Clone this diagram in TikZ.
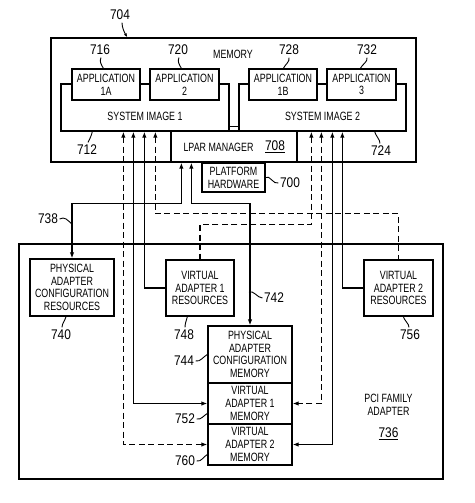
\documentclass[tikz,border=0pt]{standalone}
\usepackage{fontspec}
\setmainfont{Liberation Sans}[FakeStretch=0.74]
\newfontfamily\numfont{Liberation Sans}[FakeStretch=0.85]
\usetikzlibrary{arrows.meta,calc}
\begin{document}
\begin{tikzpicture}[x=1pt,y=-1pt, line width=1.3pt,
  >={Latex[length=6pt,width=4.5pt]},
  font=\fontsize{12}{12.7}\selectfont,
  box/.style={draw, fill=white, inner sep=0pt, align=center},
  txt/.style={inner sep=0pt, align=center},
  num/.style={font=\numfont\fontsize{14}{15}\selectfont, inner sep=0pt},
  lead/.style={line width=0.9pt},
  dsh/.style={dash pattern=on 6pt off 3.5pt}]
\useasboundingbox (0,0) rectangle (474,503);

% memory
\node[box, minimum width=365, minimum height=124] (mem) at (233.5,100) {};
\node[txt] (memt) at (233,54) {MEMORY};
\node[box, minimum width=168, minimum height=47] (si1) at (145,107.5) {};
\node[box, minimum width=167, minimum height=47] (si2) at (322.5,107.5) {};
\node[txt] (si1t) at (145,116.5) {SYSTEM IMAGE 1};
\node[txt] (si2t) at (322.5,116.5) {SYSTEM IMAGE 2};
\node[box, minimum width=68, minimum height=31] (a1a) at (106,84.5) {APPLICATION\\1A};
\node[box, minimum width=69, minimum height=31] (a2) at (184.5,84.5) {APPLICATION\\2};
\node[box, minimum width=68, minimum height=31] (a1b) at (283,84.5) {APPLICATION\\1B};
\node[box, minimum width=69, minimum height=31] (a3) at (361.5,84.5) {APPLICATION\\3};
\node[box, minimum width=126, minimum height=31] (lpar) at (234,146.5) {};
\draw ($(si1.south east)+(0,-5)$) -- ($(si2.south west)+(0,-5)$);
\node[txt] (lpart) at (218.5,147) {LPAR MANAGER};
\node[num] (n708) at (275,147) {\underline{708}};
\node[box, minimum width=63, minimum height=29] (ph) at (233.5,177.5) {PLATFORM\\HARDWARE};

% adapter
\node[box, minimum width=424, minimum height=235] (pci) at (231,361.5) {};
\node[box, minimum width=84, minimum height=57] (pacr) at (72,287.5) {PHYSICAL\\ADAPTER\\CONFIGURATION\\RESOURCES};
\node[box, minimum width=68, minimum height=56] (va1r) at (200,288) {VIRTUAL\\ADAPTER 1\\RESOURCES};
\node[box, minimum width=69, minimum height=56] (va2r) at (398.5,288) {VIRTUAL\\ADAPTER 2\\RESOURCES};
\node[box, minimum width=84, minimum height=57] (pacm) at (250,354.5) {PHYSICAL\\ADAPTER\\CONFIGURATION\\MEMORY};
\node[box, minimum width=84, minimum height=41] (va1m) at (250,403.5) {VIRTUAL\\ADAPTER 1\\MEMORY};
\node[box, minimum width=84, minimum height=41] (va2m) at (250,444.5) {VIRTUAL\\ADAPTER 2\\MEMORY};
\node[txt] (pcit) at (388.5,404.5) {PCI FAMILY\\ADAPTER};
\node[num] (n736) at (388.5,434) {\underline{736}};

% connectors
\draw[<->] (pacr.north) |- ($(lpar.south west)+(11,41)$) -- ($(lpar.south west)+(11,0)$);
\draw[<->] (pacm.north) |- ($(lpar.south west)+(21,41)$) -- ($(lpar.south west)+(21,0)$);
\draw[dsh,<-] ($(si1.south west)+(95,0)$) -- ++(0,82) -| (va2r.north);
\draw[dsh,<-] ($(si2.south west)+(73,0)$) -- ++(0,93) -| (va1r.north);
\draw[<-] ($(si1.south west)+(84,0)$) |- (va1r.west);
\draw[<->] ($(si1.south west)+(73,0)$) |- (va1m.west);
\draw[dsh,<->] ($(si1.south west)+(63,0)$) |- (va2m.west);
\draw[dsh,<->] ($(si2.south west)+(83,0)$) |- (va1m.east);
\draw[<->] ($(si2.south west)+(94,0)$) |- (va2m.east);
\draw[<-] ($(si2.south west)+(104,0)$) |- (va2r.west);

% reference numerals
\node[num] (n704) at (120,15) {704};
\node[num] (n716) at (100,50) {716};
\node[num] (n720) at (178,50) {720};
\node[num] (n728) at (289,50) {728};
\node[num] (n732) at (367,50) {732};
\node[num] (n712) at (87,150) {712};
\node[num] (n724) at (381,151) {724};
\node[num] (n738) at (48,219) {738};
\node[num] (n700) at (290,183) {700};
\node[num] (n742) at (274,298) {742};
\node[num] (n740) at (61,335) {740};
\node[num] (n748) at (184,335) {748};
\node[num] (n756) at (410,335) {756};
\node[num] (n744) at (184,361) {744};
\node[num] (n752) at (185,419) {752};
\node[num] (n760) at (185,461) {760};

\draw[lead,-{Latex[length=4pt,width=3pt]}] ($(n704.south)+(2,2)$) .. controls +(0,5) and +(-3,-5) .. ($(mem.north west)+(77,0)$);
\draw[lead] ($(n716.south)+(1,2)$) .. controls +(-2,4) and +(-2,-4) .. ($(a1a.north west)+(32,0)$);
\draw[lead] ($(n720.south)+(1,2)$) .. controls +(-2,4) and +(-2,-4) .. ($(a2.north west)+(32,0)$);
\draw[lead] ($(n728.south)+(0,2)$) .. controls +(1,4) and +(2,-4) .. ($(a1b.north west)+(35,0)$);
\draw[lead] ($(n732.south)+(0,2)$) .. controls +(1,4) and +(2,-4) .. ($(a3.north west)+(34,0)$);
\draw[lead] ($(n712.north)+(1,-2)$) .. controls +(2,-4) and +(-1,4) .. ($(si1.south west)+(32,0)$);
\draw[lead] ($(n724.north)+(-1,-2)$) .. controls +(0,-4) and +(1,4) .. ($(si2.south east)+(-32,0)$);
\draw[lead] ($(n738.east)+(1,0)$) .. controls +(5,-3) and +(-4,-4) .. ($(pacr.north)+(0,-34)$);
\draw[lead] ($(n700.west)+(-1,0)$) .. controls +(-5,2) and +(4,-3) .. (ph.east);
\draw[lead] ($(n742.west)+(-1,0)$) .. controls +(-5,0) and +(4,-3) .. ($(pacm.north)+(-1,-33)$);
\draw[lead] ($(n740.north)+(1,-2)$) .. controls +(0,-4) and +(-1,4) .. ($(pacr.south)+(-6,0)$);
\draw[lead] ($(n748.north)+(1,-2)$) .. controls +(0,-4) and +(-1,4) .. ($(va1r.south west)+(22,0)$);
\draw[lead] ($(n756.north)+(-1,-2)$) .. controls +(0,-4) and +(1,4) .. ($(va2r.south west)+(40,0)$);
\draw[lead] ($(n744.east)+(1,0)$) .. controls +(5,1) and +(-4,2) .. (pacm.west);
\draw[lead] ($(n752.east)+(1,0)$) .. controls +(5,1) and +(-4,2) .. ($(va1m.west)+(0,10)$);
\draw[lead] ($(n760.east)+(1,0)$) .. controls +(5,1) and +(-4,2) .. ($(va2m.west)+(0,10)$);
\end{tikzpicture}
\end{document}
